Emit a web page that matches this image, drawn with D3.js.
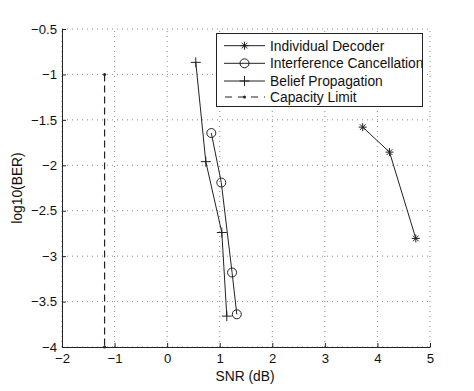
<!DOCTYPE html>
<html>
<head>
<meta charset="utf-8">
<script src="https://cdn.jsdelivr.net/npm/d3@7"></script>
<style>
  body { margin: 0; background: #fff; }
  svg { display: block; }
  text { font-family: "Liberation Sans", Arial, Helvetica, sans-serif; fill: #111; }
</style>
</head>
<body>
<script>
// series (SNR in dB, log10 of BER)
var indivX = [3.72, 4.23, 4.73];
var indivY = [-1.58, -1.855, -2.805];
var icX = [0.84, 1.03, 1.235, 1.325];
var icY = [-1.645, -2.19, -3.18, -3.64];
var bpX = [0.545, 0.735, 1.04, 1.135];
var bpY = [-0.867, -1.96, -2.74, -3.66];
var capX = [-1.19, -1.19];
var capY = [-1, -4];

var xTicks = [-2, -1, 0, 1, 2, 3, 4, 5];
var yTicks = [-0.5, -1, -1.5, -2, -2.5, -3, -3.5, -4];
var legendNames = ["Individual Decoder", "Interference Cancellation", "Belief Propagation", "Capacity Limit"];

var w = 474, h = 391;
var svg = d3.select("body").append("svg").attr("width", w).attr("height", h);

var x = d3.scaleLinear().domain([-2, 5]).range([62, 430]);
var y = d3.scaleLinear().domain([-4, -0.5]).range([347, 29]);

function fmt(d) { return d3.format("")(d).replace("-", "\u2212"); }

// dotted grid
svg.append("g").selectAll("line").data(xTicks).enter().append("line")
  .attr("x1", d => x(d)).attr("x2", d => x(d))
  .attr("y1", y(-4)).attr("y2", y(-0.5))
  .attr("stroke", "#8a8a8a").attr("stroke-width", 1).attr("stroke-dasharray", "1,4");
svg.append("g").selectAll("line").data(yTicks).enter().append("line")
  .attr("x1", x(-2)).attr("x2", x(5))
  .attr("y1", d => y(d)).attr("y2", d => y(d))
  .attr("stroke", "#8a8a8a").attr("stroke-width", 1).attr("stroke-dasharray", "1,4");

// axes (ticks point inward)
var xAxis = d3.axisBottom(x).tickValues(xTicks).tickSizeInner(-4).tickSizeOuter(0).tickPadding(7).tickFormat(fmt);
var yAxis = d3.axisLeft(y).tickValues(yTicks).tickSizeInner(-4).tickSizeOuter(0).tickPadding(5).tickFormat(fmt);

var gx = svg.append("g").attr("transform", "translate(0," + y(-4) + ")").call(xAxis);
var gy = svg.append("g").attr("transform", "translate(" + x(-2) + ",0)").call(yAxis);
[gx, gy].forEach(function (g) {
  g.selectAll("path, line").attr("stroke", "#222");
  g.selectAll("text").attr("font-size", 13.2).attr("fill", "#111")
    .attr("font-family", "'Liberation Sans', Arial, sans-serif");
});

svg.append("text").attr("x", 245).attr("y", 380.5).attr("text-anchor", "middle")
  .attr("font-size", 13.8).text("SNR (dB)");
svg.append("text").attr("transform", "translate(22,188) rotate(-90)").attr("text-anchor", "middle")
  .attr("font-size", 13.8).text("log10(BER)");

var line = d3.line().x(d => x(d[0])).y(d => y(d[1]));
var ink = "#222";

function pts(xs, ys) { return xs.map((v, i) => [v, ys[i]]); }

var indiv = pts(indivX, indivY), ic = pts(icX, icY), bp = pts(bpX, bpY), cap = pts(capX, capY);

svg.append("path").datum(cap).attr("d", line).attr("fill", "none")
  .attr("stroke", ink).attr("stroke-width", 1.2).attr("stroke-dasharray", "7,4");
svg.append("path").datum(bp).attr("d", line).attr("fill", "none").attr("stroke", ink).attr("stroke-width", 1);
svg.append("path").datum(ic).attr("d", line).attr("fill", "none").attr("stroke", ink).attr("stroke-width", 1);
svg.append("path").datum(indiv).attr("d", line).attr("fill", "none").attr("stroke", ink).attr("stroke-width", 1);

// markers
function star(g, cx, cy, r) {
  for (var k = 0; k < 4; k++) {
    var a = k * Math.PI / 4;
    g.append("line").attr("x1", cx - r * Math.cos(a)).attr("y1", cy - r * Math.sin(a))
      .attr("x2", cx + r * Math.cos(a)).attr("y2", cy + r * Math.sin(a))
      .attr("stroke", ink).attr("stroke-width", 1);
  }
}
function plus(g, cx, cy, r) {
  g.append("line").attr("x1", cx - r).attr("x2", cx + r).attr("y1", cy).attr("y2", cy).attr("stroke", ink);
  g.append("line").attr("x1", cx).attr("x2", cx).attr("y1", cy - r).attr("y2", cy + r).attr("stroke", ink);
}
function circ(g, cx, cy, r) {
  g.append("circle").attr("cx", cx).attr("cy", cy).attr("r", r)
    .attr("fill", "none").attr("stroke", ink).attr("stroke-width", 1);
}
function dot(g, cx, cy) {
  g.append("circle").attr("cx", cx).attr("cy", cy).attr("r", 1.5).attr("fill", ink);
}

var mk = svg.append("g");
indiv.forEach(d => star(mk, x(d[0]), y(d[1]), 4));
ic.forEach(d => circ(mk, x(d[0]), y(d[1]), 4.5));
bp.forEach(d => plus(mk, x(d[0]), y(d[1]), 5));
cap.forEach(d => dot(mk, x(d[0]), y(d[1])));

// legend
var lg = svg.append("g");
lg.append("rect").attr("x", 216.5).attr("y", 33.5).attr("width", 206).attr("height", 73)
  .attr("fill", "#fff").attr("stroke", ink).attr("stroke-width", 1);
var rowY = [45.7, 63.3, 81, 97];
legendNames.forEach(function (name, i) {
  var yy = rowY[i];
  var l = lg.append("line").attr("x1", 224).attr("x2", 265).attr("y1", yy).attr("y2", yy)
    .attr("stroke", ink).attr("stroke-width", 1);
  if (i === 3) l.attr("stroke-dasharray", "7,6").attr("stroke-dashoffset", -1);
  if (i === 0) star(lg, 244.5, yy, 4);
  if (i === 1) circ(lg, 244.5, yy, 4.5);
  if (i === 2) plus(lg, 244.5, yy, 5);
  if (i === 3) dot(lg, 244.5, yy);
  lg.append("text").attr("x", 270).attr("y", yy + 4.8).attr("font-size", 13.8).text(name);
});
</script>
</body>
</html>
